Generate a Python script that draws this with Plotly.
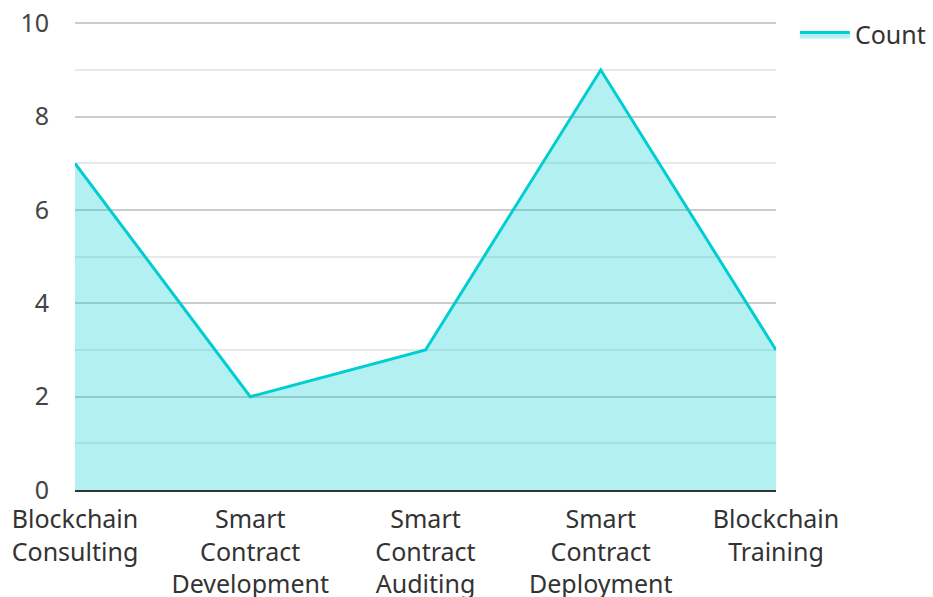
import plotly.graph_objects as go

categories = ["Blockchain<br>Consulting", "Smart<br>Contract<br>Development", "Smart<br>Contract<br>Auditing",
              "Smart<br>Contract<br>Deployment", "Blockchain<br>Training"]
counts = [7, 2, 3, 9, 3]
series_name = "Count"

fig = go.Figure()
fig.add_trace(go.Scatter(
    x=categories, y=counts, name=series_name, mode="lines",
    fill="tozeroy", fillcolor="rgba(0,206,209,0.3)",
    line=dict(color="#00CED1", width=3),
))

fig.update_layout(
    width=933, height=597,
    margin=dict(l=75, r=157, t=22, b=107, autoexpand=False),
    paper_bgcolor="white", plot_bgcolor="white",
    font=dict(family="Noto Sans", size=25, color="#333333"),
    showlegend=True,
    legend=dict(x=1.027, y=1.022, xanchor="left", yanchor="top", itemwidth=50,
                font=dict(size=25, color="#333333")),
)
fig.update_xaxes(range=[0, 4], showgrid=False, showline=True, linecolor="#333333", linewidth=2,
                 ticks="outside", ticklen=6, tickcolor="rgba(0,0,0,0)", tickfont=dict(size=25),
                 automargin=False)
fig.update_yaxes(range=[0, 10.03], dtick=2, tick0=0, showgrid=True, gridcolor="#cccccc", gridwidth=2,
                 zeroline=False, showline=False, ticks="outside", ticklen=20, tickcolor="rgba(0,0,0,0)",
                 tickfont=dict(size=25, color="#444444"), automargin=False,
                 minor=dict(dtick=1, showgrid=True, gridcolor="#e8e8e8", gridwidth=1.5))

fig.write_html("out.html")
